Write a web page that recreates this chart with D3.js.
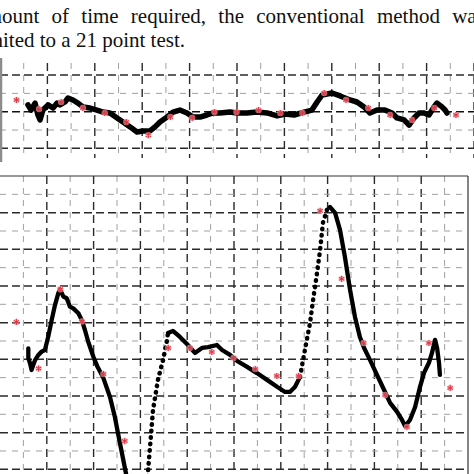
<!DOCTYPE html>
<html>
<head>
<meta charset="utf-8">
<script src="https://cdn.jsdelivr.net/npm/d3@7"></script>
<style>
  html, body { margin: 0; padding: 0; background: #fff; }
  svg { display: block; }
</style>
</head>
<body>
<svg id="chart" width="474" height="474"></svg>
<script>
// text above the figure (clipped at both sides in the original)
const textLines = ["amount of time required, the conventional method was", "limited to a 21 point test."];

// 21 test points, shared x positions (grid units)
const starX = [0.70, 1.65, 2.58, 3.50, 4.42, 5.33, 6.26, 7.19, 8.11, 9.05, 9.98,
               10.91, 11.83, 12.76, 13.68, 14.60, 15.54, 16.46, 17.39, 18.33, 19.24];
const topStarY = [0.64, 0.15, 0.53, 0.20, -0.07, -0.56, -1.28, -0.29, -0.34, -0.02, -0.02,
                  0.09, -0.07, -0.07, 1.02, 0.64, 0.20, -0.18, -0.45, 0.20, -0.18];
const bottomStarY = [8.04, 5.50, 9.82, 8.06, 5.20, 1.54, -2.8, 6.62, 6.62, 6.40, 6.07,
                     5.47, 5.09, 5.09, 14.10, 10.39, 6.89, 4.05, 2.31, 6.89, 4.44];

// measured trace, upper panel
const topCurveX = [1.18, 1.31, 1.48, 1.60, 1.69, 1.81, 2.03, 2.24, 2.41, 2.53, 2.74, 2.87, 3.08, 3.29,
  3.50, 3.80, 4.09, 4.35, 4.64, 4.94, 5.19, 5.49, 5.78, 6.03, 6.33, 6.54, 6.75, 7.05, 7.30, 7.59,
  7.89, 8.14, 8.44, 8.73, 8.99, 9.28, 9.70, 10.00, 10.42, 10.84, 11.27, 11.69, 12.03, 12.41, 12.83,
  13.16, 13.38, 13.59, 14.01, 14.35, 14.77, 15.06, 15.36, 15.61, 15.91, 16.24, 16.54, 16.75, 17.05,
  17.26, 17.47, 17.68, 17.89, 18.10, 18.31, 18.44, 18.65, 18.78, 18.86];
const topCurveY = [0.37, 0.09, 0.47, -0.18, -0.45, 0.09, 0.37, 0.20, 0.47, 0.37, 0.53, 0.75, 0.64, 0.47,
  0.26, 0.20, 0.09, -0.02, -0.07, -0.34, -0.56, -0.83, -1.11, -1.05, -1.05, -0.83, -0.56, -0.29, -0.02, 0.09,
  -0.07, -0.29, -0.29, -0.18, -0.07, -0.07, -0.02, -0.07, -0.07, -0.02, -0.07, -0.23, -0.13, -0.18, -0.02,
  0.09, 0.53, 0.91, 1.02, 0.86, 0.64, 0.53, 0.26, -0.07, 0.09, 0.09, -0.07, -0.34, -0.45,
  -0.73, -0.34, -0.07, -0.07, -0.18, 0.26, 0.47, 0.26, 0.09, -0.07];

// measured trace, lower panel
const bottomCurveX = [1.21, 1.21, 1.28, 1.35, 1.42, 1.50, 1.64, 1.78, 1.92, 2.06, 2.21, 2.35, 2.49, 2.56,
  2.71, 2.85, 2.99, 3.13, 3.35, 3.49, 3.63, 3.77, 3.99, 4.15, 4.40, 4.70, 4.91, 5.04, 5.21, 5.38,
  5.73, 6.03, 6.20, 6.32, 6.54, 6.75, 6.97, 7.14, 7.18, 7.39, 7.69, 8.03, 8.33, 8.63, 8.89, 9.27,
  9.49, 9.83, 10.13, 10.56, 10.98, 11.41, 11.84, 12.18, 12.39, 12.61, 12.82, 13.03, 13.25, 13.38,
  13.55, 13.68, 13.80, 13.97, 14.10, 14.32, 14.53, 14.74, 14.96, 15.17, 15.38, 15.56, 15.81, 16.11,
  16.41, 16.67, 16.97, 17.18, 17.31, 17.52, 17.74, 17.95, 18.12, 18.33, 18.46, 18.59, 18.68, 18.76, 18.80];
const bottomCurveY = [6.60, 6.07, 5.80, 5.42, 5.69, 5.96, 6.24, 6.42, 6.51, 7.23, 8.15, 8.96, 9.60, 9.82,
  9.42, 9.33, 8.87, 8.78, 8.51, 8.15, 7.60, 6.96, 6.14, 5.64, 5.04, 3.94, 2.85, 1.98, 0.89, -0.20,
  -2.33, -4.28, -2.49, -0.20, 3.24, 4.88, 5.97, 7.06, 7.44, 7.55, 7.22, 6.78, 6.35, 6.62, 6.67, 6.78,
  6.51, 6.24, 5.91, 5.59, 5.25, 4.88, 4.50, 4.22, 4.22, 4.50, 5.04, 6.51, 7.99, 9.24,
  10.72, 11.97, 13.44, 14.15, 14.31, 13.99, 13.06, 11.59, 9.79, 8.31, 7.22, 6.62, 5.97, 5.15,
  4.34, 3.62, 3.13, 2.69, 2.36, 2.69, 3.40, 4.50, 5.26, 5.81, 6.35, 7.06, 6.62, 5.81, 5.15];
// sparse (fast) stretches of the lower trace show up as dots
const dottedSpans = [[6.03, 7.18], [12.82, 14.10]];

const svg = d3.select("#chart");

// ---- text ----
const txt = svg.append("g")
    .attr("font-family", "'Liberation Serif', 'Times New Roman', serif")
    .attr("font-size", 21)
    .attr("fill", "#111");
txt.append("text").attr("x", -23.7).attr("y", 23)
    .attr("word-spacing", 7)
    .text(textLines[0]);
txt.append("text").attr("x", 185).attr("y", 47)
    .attr("text-anchor", "end")
    .text(textLines[1]);

// ---- scales ----
const xTop = d3.scaleLinear().domain([0, 20]).range([0, 474]);
const yTop = d3.scaleLinear().domain([-2, 2]).range([148.35, 75.05]);
const xBot = d3.scaleLinear().domain([0, 20]).range([0, 468]);
const yBot = d3.scaleLinear().domain([0, 16]).range([469.3, 176]);

const gridCol = (major) => major ? "#2a2a2a" : "#a0a0a0";

function drawGrid(g, xs, ys, xTicks, yTicks, yTopPx, yBotPx) {
    // vertical dashed lines
    g.selectAll("line.v").data(xTicks).enter().append("line")
        .attr("x1", d => xs(d)).attr("x2", d => xs(d))
        .attr("y1", yTopPx).attr("y2", yBotPx)
        .attr("stroke", d => gridCol(d % 2 === 0))
        .attr("stroke-width", d => d % 2 === 0 ? 1.4 : 1)
        .attr("stroke-dasharray", d => d % 2 === 0 ? "8,5" : "6,6");
    // horizontal dashed lines
    g.selectAll("line.h").data(yTicks).enter().append("line")
        .attr("x1", 0).attr("x2", xs.range()[1])
        .attr("y1", d => ys(d)).attr("y2", d => ys(d))
        .attr("stroke", d => d === 0 && ys === yTop ? "#111" : gridCol(d % 2 === 0))
        .attr("stroke-width", d => d % 2 === 0 ? 1.5 : 1)
        .attr("stroke-dasharray", d => d % 2 === 0 ? "8,4" : "6,6");
}

function drawStars(g, xs, ys, yVals) {
    const star = d3.symbol().type(d3.symbolAsterisk).size(26);
    const pts = starX.map((x, i) => [x, yVals[i]]);
    g.selectAll("circle.st").data(pts).enter().append("circle")
        .attr("cx", d => xs(d[0])).attr("cy", d => ys(d[1]))
        .attr("r", 3.2).attr("fill", "#f3a3ab").attr("opacity", 0.7);
    g.selectAll("path.st").data(pts).enter().append("path")
        .attr("transform", d => `translate(${xs(d[0])},${ys(d[1])})`)
        .attr("d", star)
        .attr("fill", "none").attr("stroke", "#dc3b47").attr("stroke-width", 1.1);
}

// ---- upper panel ----
const gTop = svg.append("g");
drawGrid(gTop, xTop, yTop, d3.range(1, 21), [-2, -1, 0, 1, 2], 63, 158);
gTop.append("line").attr("x1", 1).attr("x2", 1).attr("y1", 58).attr("y2", 162)
    .attr("stroke", "#8c8c8c").attr("stroke-width", 2.5);

const topLine = d3.line().x(d => xTop(d[0])).y(d => yTop(d[1]));
gTop.append("path")
    .attr("d", topLine(topCurveX.map((x, i) => [x, topCurveY[i]])))
    .attr("fill", "none").attr("stroke", "#000").attr("stroke-width", 5.5)
    .attr("stroke-linejoin", "round").attr("stroke-linecap", "round");
drawStars(gTop, xTop, yTop, topStarY);

// ---- lower panel ----
const gBot = svg.append("g");
drawGrid(gBot, xBot, yBot, d3.range(1, 20), d3.range(0, 16), 176, 474);
// box edges
gBot.append("line").attr("x1", 0).attr("x2", xBot(20)).attr("y1", yBot(16)).attr("y2", yBot(16))
    .attr("stroke", "#333").attr("stroke-width", 1.2);
gBot.append("line").attr("x1", xBot(20)).attr("x2", xBot(20)).attr("y1", yBot(16)).attr("y2", 474)
    .attr("stroke", "#333").attr("stroke-width", 1.2);

// split the trace into solid and dotted runs
const inDotted = x => dottedSpans.some(s => x >= s[0] && x <= s[1]);
const pts = bottomCurveX.map((x, i) => [x, bottomCurveY[i]]);
const runs = [];
for (let i = 1; i < pts.length; i++) {
    const dotted = inDotted((pts[i - 1][0] + pts[i][0]) / 2);
    const last = runs[runs.length - 1];
    if (last && last.dotted === dotted) last.points.push(pts[i]);
    else runs.push({dotted: dotted, points: [pts[i - 1], pts[i]]});
}
const botLine = d3.line().x(d => xBot(d[0])).y(d => yBot(d[1]));
gBot.selectAll("path.trace").data(runs).enter().append("path")
    .attr("d", d => botLine(d.points))
    .attr("fill", "none").attr("stroke", "#000")
    .attr("stroke-width", d => d.dotted ? 4.5 : 4.3)
    .attr("stroke-dasharray", d => d.dotted ? "0.5,6" : null)
    .attr("stroke-linejoin", "round").attr("stroke-linecap", "round");
drawStars(gBot, xBot, yBot, bottomStarY);
</script>
</body>
</html>
